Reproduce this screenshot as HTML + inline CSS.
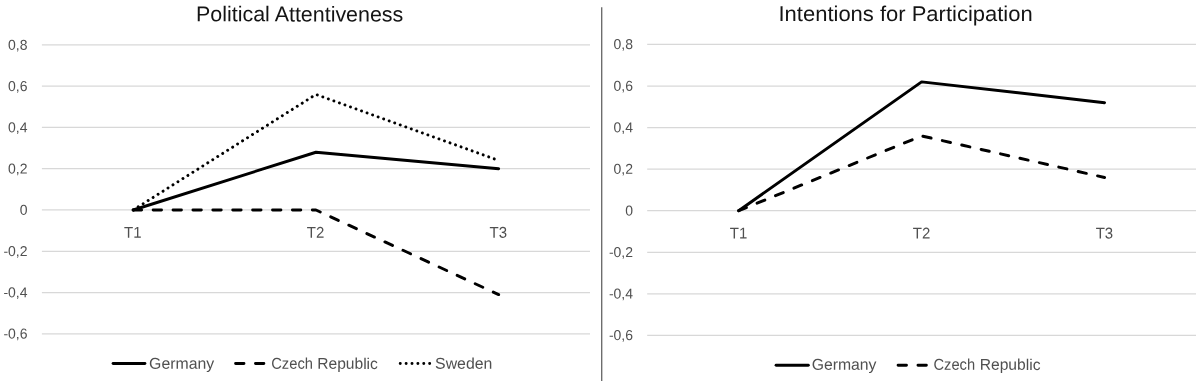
<!DOCTYPE html>
<html lang="en"><head><meta charset="utf-8"><title>Political Attentiveness / Intentions for Participation</title>
<style>
html,body{margin:0;padding:0;background:#fff;}
body{width:1200px;height:386px;overflow:hidden;}
svg{display:block;}
text{font-family:"Liberation Sans",sans-serif;}
.ax{font-size:14.2px;fill:#505050;}
.cat{font-size:15.6px;fill:#505050;}
.lg{font-size:15.7px;fill:#505050;}
.ttl{font-size:21.3px;fill:#141414;}
</style></head>
<body>
<svg width="1200" height="386" viewBox="0 0 1200 386">
<rect width="1200" height="386" fill="#fff"/>
<line x1="41.9" y1="44.95" x2="590.0" y2="44.95" stroke="#d8d8d8" stroke-width="1.25"/>
<line x1="41.9" y1="86.21" x2="590.0" y2="86.21" stroke="#d8d8d8" stroke-width="1.25"/>
<line x1="41.9" y1="127.47" x2="590.0" y2="127.47" stroke="#d8d8d8" stroke-width="1.25"/>
<line x1="41.9" y1="168.73" x2="590.0" y2="168.73" stroke="#d8d8d8" stroke-width="1.25"/>
<line x1="41.9" y1="209.99" x2="590.0" y2="209.99" stroke="#d8d8d8" stroke-width="1.25"/>
<line x1="41.9" y1="251.25" x2="590.0" y2="251.25" stroke="#d8d8d8" stroke-width="1.25"/>
<line x1="41.9" y1="292.51" x2="590.0" y2="292.51" stroke="#d8d8d8" stroke-width="1.25"/>
<line x1="41.9" y1="333.77" x2="590.0" y2="333.77" stroke="#d8d8d8" stroke-width="1.25"/>
<text class="ax" transform="translate(27.50,49.70) rotate(0.05) scale(0.985,1)" text-anchor="end">0,8</text>
<text class="ax" transform="translate(27.50,90.96) rotate(0.05) scale(0.985,1)" text-anchor="end">0,6</text>
<text class="ax" transform="translate(27.50,132.22) rotate(0.05) scale(0.985,1)" text-anchor="end">0,4</text>
<text class="ax" transform="translate(27.50,173.48) rotate(0.05) scale(0.985,1)" text-anchor="end">0,2</text>
<text class="ax" transform="translate(27.50,214.74) rotate(0.05) scale(0.985,1)" text-anchor="end">0</text>
<text class="ax" transform="translate(27.50,256.00) rotate(0.05) scale(0.985,1)" text-anchor="end">-0,2</text>
<text class="ax" transform="translate(27.50,297.26) rotate(0.05) scale(0.985,1)" text-anchor="end">-0,4</text>
<text class="ax" transform="translate(27.50,338.52) rotate(0.05) scale(0.985,1)" text-anchor="end">-0,6</text>
<polyline points="133.25,209.99 315.95,209.99 498.65,294.57" fill="none" stroke="#000" stroke-width="2.95" stroke-linecap="round" stroke-linejoin="round" stroke-dasharray="8.35 11.55"/>
<polyline points="133.25,209.99 315.95,94.46 498.65,160.48" fill="none" stroke="#000" stroke-width="2.95" stroke-linecap="round" stroke-linejoin="round" stroke-dasharray="0.01 5.87"/>
<polyline points="133.25,209.99 315.95,152.23 498.65,168.73" fill="none" stroke="#000" stroke-width="2.95" stroke-linecap="round" stroke-linejoin="round"/>
<line x1="647.2" y1="44.46" x2="1196.0" y2="44.46" stroke="#d8d8d8" stroke-width="1.25"/>
<line x1="647.2" y1="86.03" x2="1196.0" y2="86.03" stroke="#d8d8d8" stroke-width="1.25"/>
<line x1="647.2" y1="127.60" x2="1196.0" y2="127.60" stroke="#d8d8d8" stroke-width="1.25"/>
<line x1="647.2" y1="169.17" x2="1196.0" y2="169.17" stroke="#d8d8d8" stroke-width="1.25"/>
<line x1="647.2" y1="210.74" x2="1196.0" y2="210.74" stroke="#d8d8d8" stroke-width="1.25"/>
<line x1="647.2" y1="252.31" x2="1196.0" y2="252.31" stroke="#d8d8d8" stroke-width="1.25"/>
<line x1="647.2" y1="293.88" x2="1196.0" y2="293.88" stroke="#d8d8d8" stroke-width="1.25"/>
<line x1="647.2" y1="335.45" x2="1196.0" y2="335.45" stroke="#d8d8d8" stroke-width="1.25"/>
<text class="ax" transform="translate(633.00,49.11) rotate(0.05) scale(0.985,1)" text-anchor="end">0,8</text>
<text class="ax" transform="translate(633.00,90.68) rotate(0.05) scale(0.985,1)" text-anchor="end">0,6</text>
<text class="ax" transform="translate(633.00,132.25) rotate(0.05) scale(0.985,1)" text-anchor="end">0,4</text>
<text class="ax" transform="translate(633.00,173.82) rotate(0.05) scale(0.985,1)" text-anchor="end">0,2</text>
<text class="ax" transform="translate(633.00,215.39) rotate(0.05) scale(0.985,1)" text-anchor="end">0</text>
<text class="ax" transform="translate(633.00,256.96) rotate(0.05) scale(0.985,1)" text-anchor="end">-0,2</text>
<text class="ax" transform="translate(633.00,298.53) rotate(0.05) scale(0.985,1)" text-anchor="end">-0,4</text>
<text class="ax" transform="translate(633.00,340.10) rotate(0.05) scale(0.985,1)" text-anchor="end">-0,6</text>
<polyline points="738.67,210.74 921.60,135.91 1104.53,177.48" fill="none" stroke="#000" stroke-width="2.95" stroke-linecap="round" stroke-linejoin="round" stroke-dasharray="8.35 11.55"/>
<polyline points="738.67,210.74 921.60,81.87 1104.53,102.66" fill="none" stroke="#000" stroke-width="2.95" stroke-linecap="round" stroke-linejoin="round"/>
<text class="cat" transform="translate(132.85,237.70) rotate(0.05)" text-anchor="middle" textLength="17.5" lengthAdjust="spacingAndGlyphs">T1</text>
<text class="cat" transform="translate(315.55,237.70) rotate(0.05)" text-anchor="middle" textLength="17.5" lengthAdjust="spacingAndGlyphs">T2</text>
<text class="cat" transform="translate(498.25,237.70) rotate(0.05)" text-anchor="middle" textLength="17.5" lengthAdjust="spacingAndGlyphs">T3</text>
<text class="cat" transform="translate(738.57,238.40) rotate(0.05)" text-anchor="middle" textLength="17.5" lengthAdjust="spacingAndGlyphs">T1</text>
<text class="cat" transform="translate(921.50,238.40) rotate(0.05)" text-anchor="middle" textLength="17.5" lengthAdjust="spacingAndGlyphs">T2</text>
<text class="cat" transform="translate(1104.43,238.40) rotate(0.05)" text-anchor="middle" textLength="17.5" lengthAdjust="spacingAndGlyphs">T3</text>
<line x1="601.7" y1="7.3" x2="601.7" y2="381" stroke="#6a6a6a" stroke-width="1.35"/>
<text class="ttl" transform="translate(196.00,21.30) rotate(0.05)" textLength="207.3" lengthAdjust="spacingAndGlyphs">Political Attentiveness</text>
<text class="ttl" transform="translate(778.50,20.90) rotate(0.05)" textLength="254.2" lengthAdjust="spacingAndGlyphs">Intentions for Participation</text>
<line x1="113.10" y1="363.5" x2="144.90" y2="363.5" stroke="#000" stroke-width="2.95" stroke-linecap="round"/>
<text class="lg" transform="translate(149.10,368.80) rotate(0.05)" textLength="65.1" lengthAdjust="spacingAndGlyphs">Germany</text>
<line x1="235.60" y1="363.5" x2="266.50" y2="363.5" stroke="#000" stroke-width="2.95" stroke-linecap="round" stroke-dasharray="8.35 11.55"/>
<text class="lg" transform="translate(271.25,368.80) rotate(0.05)"><tspan x="0" textLength="41.7" lengthAdjust="spacingAndGlyphs">Czech</tspan> <tspan x="45.95" textLength="60.7" lengthAdjust="spacingAndGlyphs">Republic</tspan></text>
<line x1="400.25" y1="363.5" x2="430.50" y2="363.5" stroke="#000" stroke-width="2.95" stroke-linecap="round" stroke-dasharray="0.01 5.87"/>
<text class="lg" transform="translate(435.10,368.80) rotate(0.05)" textLength="57.25" lengthAdjust="spacingAndGlyphs">Sweden</text>
<line x1="776.10" y1="365.3" x2="808.30" y2="365.3" stroke="#000" stroke-width="2.95" stroke-linecap="round"/>
<text class="lg" transform="translate(811.65,369.80) rotate(0.05)" textLength="64.8" lengthAdjust="spacingAndGlyphs">Germany</text>
<line x1="898.10" y1="365.3" x2="929.00" y2="365.3" stroke="#000" stroke-width="2.95" stroke-linecap="round" stroke-dasharray="8.35 11.55"/>
<text class="lg" transform="translate(933.45,369.80) rotate(0.05)"><tspan x="0" textLength="41.6" lengthAdjust="spacingAndGlyphs">Czech</tspan> <tspan x="46.25" textLength="60.8" lengthAdjust="spacingAndGlyphs">Republic</tspan></text>
</svg>
</body></html>
